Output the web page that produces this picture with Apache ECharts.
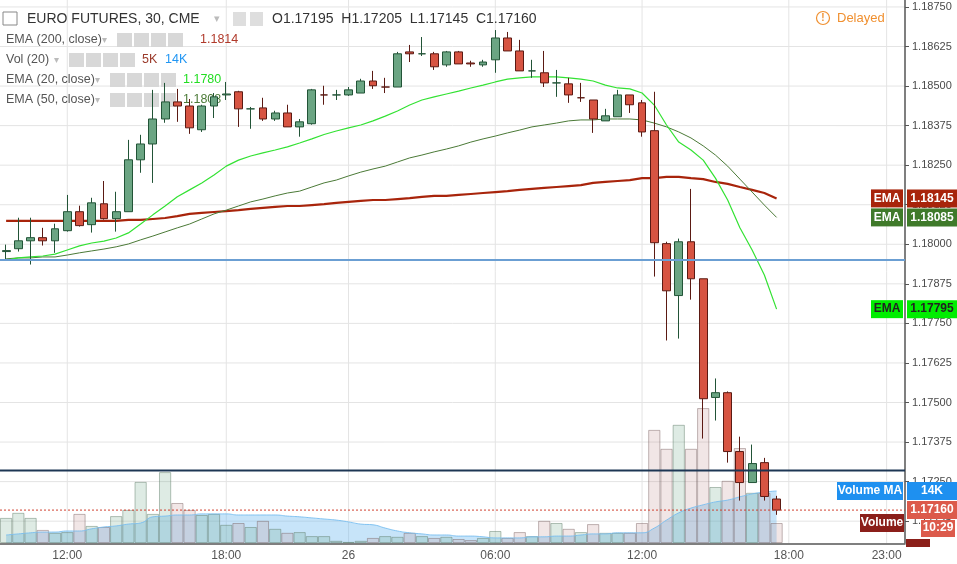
<!DOCTYPE html>
<html><head><meta charset="utf-8">
<script src="https://cdn.jsdelivr.net/npm/echarts@6/dist/echarts.min.js"></script>
<style>html,body{margin:0;padding:0;background:#fff}#c{width:957px;height:564px}</style>
</head><body><div id="c"></div>
<script>
// candles: [open, close, low, high]
const ohlc = [
[1.17977,1.17980,1.17951,1.17999],[1.17986,1.18011,1.17977,1.18084],[1.18011,1.18021,1.17936,1.18084],[1.18021,1.18011,1.17996,1.18052],
[1.18011,1.18049,1.17973,1.18065],[1.18043,1.18103,1.18040,1.18156],[1.18103,1.18059,1.18056,1.18122],[1.18062,1.18131,1.18037,1.18147],
[1.18128,1.18081,1.18078,1.18200],[1.18081,1.18103,1.18040,1.18166],[1.18103,1.18267,1.18103,1.18330],[1.18267,1.18317,1.18226,1.18346],
[1.18317,1.18396,1.18194,1.18488],[1.18396,1.18450,1.18384,1.18510],[1.18450,1.18437,1.18387,1.18491],[1.18437,1.18368,1.18349,1.18459],
[1.18362,1.18437,1.18355,1.18441],[1.18437,1.18466,1.18399,1.18478],[1.18472,1.18475,1.18456,1.18513],[1.18482,1.18428,1.18371,1.18485],
[1.18428,1.18428,1.18365,1.18434],[1.18431,1.18396,1.18390,1.18463],[1.18396,1.18415,1.18390,1.18422],[1.18415,1.18371,1.18371,1.18441],
[1.18371,1.18387,1.18340,1.18396],[1.18381,1.18488,1.18378,1.18491],[1.18472,1.18472,1.18441,1.18501],[1.18472,1.18472,1.18456,1.18488],
[1.18472,1.18488,1.18469,1.18497],[1.18478,1.18516,1.18478,1.18523],[1.18516,1.18501,1.18491,1.18548],[1.18497,1.18497,1.18478,1.18526],
[1.18497,1.18602,1.18497,1.18608],[1.18608,1.18602,1.18576,1.18630],[1.18602,1.18602,1.18595,1.18655],[1.18602,1.18561,1.18551,1.18608],
[1.18567,1.18608,1.18561,1.18611],[1.18608,1.18570,1.18570,1.18611],[1.18573,1.18570,1.18561,1.18580],[1.18567,1.18576,1.18561,1.18583],
[1.18583,1.18652,1.18542,1.18677],[1.18652,1.18611,1.18611,1.18671],[1.18611,1.18548,1.18548,1.18646],[1.18548,1.18548,1.18526,1.18583],
[1.18542,1.18510,1.18497,1.18611],[1.18510,1.18510,1.18466,1.18551],[1.18507,1.18472,1.18447,1.18526],[1.18463,1.18463,1.18450,1.18510],
[1.18456,1.18396,1.18352,1.18456],[1.18390,1.18406,1.18390,1.18428],[1.18403,1.18472,1.18403,1.18488],[1.18472,1.18441,1.18415,1.18472],
[1.18447,1.18355,1.18340,1.18456],[1.18359,1.18005,1.17898,1.18482],[1.18002,1.17853,1.17696,1.18008],[1.17838,1.18008,1.17702,1.18018],
[1.18008,1.17891,1.17825,1.18175],[1.17891,1.17512,1.17386,1.17891],[1.17516,1.17531,1.17443,1.17576],[1.17531,1.17345,1.17310,1.17535],
[1.17345,1.17247,1.17190,1.17392],[1.17247,1.17307,1.17247,1.17367],[1.17310,1.17203,1.17190,1.17325],[1.17195,1.17160,1.17145,1.17205]
];
const ema20 = [1.17950,1.17957,1.17960,1.17963,1.17969,1.17982,1.17995,1.18004,1.18010,1.18020,1.18036,1.18064,1.18093,1.18121,1.18150,1.18172,1.18194,1.18219,1.18247,1.18266,1.18279,1.18289,1.18298,1.18308,1.18320,1.18333,1.18347,1.18358,1.18368,1.18377,1.18390,1.18405,1.18421,1.18440,1.18456,1.18466,1.18475,1.18484,1.18494,1.18503,1.18513,1.18522,1.18526,1.18529,1.18529,1.18529,1.18526,1.18522,1.18516,1.18503,1.18494,1.18491,1.18478,1.18440,1.18377,1.18323,1.18298,1.18266,1.18209,1.18140,1.18052,1.17982,1.17903,1.17795];
const ema50 = [1.17954,1.17957,1.17957,1.17960,1.17960,1.17966,1.17973,1.17979,1.17985,1.17992,1.18001,1.18014,1.18026,1.18039,1.18052,1.18064,1.18080,1.18096,1.18108,1.18121,1.18134,1.18143,1.18153,1.18162,1.18168,1.18181,1.18194,1.18203,1.18216,1.18228,1.18238,1.18247,1.18260,1.18273,1.18282,1.18292,1.18301,1.18311,1.18323,1.18333,1.18342,1.18352,1.18361,1.18371,1.18377,1.18383,1.18390,1.18393,1.18393,1.18396,1.18396,1.18396,1.18393,1.18383,1.18371,1.18355,1.18336,1.18311,1.18282,1.18247,1.18206,1.18165,1.18124,1.18085];
const ema200 = [1.18074,1.18074,1.18074,1.18074,1.18074,1.18074,1.18074,1.18074,1.18074,1.18074,1.18077,1.18077,1.18080,1.18083,1.18089,1.18096,1.18099,1.18102,1.18105,1.18108,1.18112,1.18115,1.18118,1.18121,1.18121,1.18124,1.18127,1.18131,1.18134,1.18137,1.18140,1.18140,1.18143,1.18146,1.18150,1.18153,1.18153,1.18156,1.18159,1.18162,1.18165,1.18168,1.18172,1.18175,1.18178,1.18181,1.18184,1.18187,1.18194,1.18197,1.18200,1.18203,1.18209,1.18209,1.18213,1.18213,1.18209,1.18206,1.18197,1.18191,1.18181,1.18172,1.18162,1.18145];
// volume in thousands
const volume = [6.9,8.3,6.9,3.6,2.8,3.0,8.0,4.7,4.4,7.4,9.1,16.8,8.0,19.5,11.0,9.1,7.7,8.0,5.0,5.5,4.4,6.1,3.9,2.8,3.0,1.9,1.9,0.6,0.3,0.6,1.4,1.9,1.7,2.8,1.9,1.4,1.7,1.1,0.8,1.4,3.3,1.4,3.0,1.9,6.1,5.5,3.9,3.0,5.2,2.8,2.8,2.8,5.5,31.1,25.9,32.5,25.9,37.1,15.4,17.1,26.1,13.8,13.8,5.5];
const volMA = [2.2,2.5,2.8,3.0,3.0,3.3,3.3,3.9,4.4,4.7,5.2,5.5,7.2,7.4,7.7,7.7,8.0,8.0,8.0,7.7,7.7,7.7,7.7,7.4,7.2,6.9,6.6,6.3,5.8,5.2,5.0,4.1,3.3,2.8,2.5,2.2,2.2,1.9,1.9,1.7,1.4,1.4,1.4,1.7,1.7,1.9,1.9,2.2,2.5,2.5,2.8,2.8,2.8,4.1,6.3,8.3,9.6,10.5,11.3,11.8,12.7,13.5,14.0,14.3];
const slotCount = 74;
const timeTickIdx = [5,18,28,40,52,64,72];
const timeTickText = ['12:00','18:00','26','06:00','12:00','18:00','23:00'];
const priceTicks = [1.18750,1.18625,1.18500,1.18375,1.18250,1.18125,1.18000,1.17875,1.17750,1.17625,1.17500,1.17375,1.17250,1.17125];
const hLineBlue = 1.17950, hLineNavy = 1.17285, lastClose = 1.17160;
const tags = [
  {v: 1.18145, bg: '#a8240b', fg: '#fff', left: 'EMA', right: '1.18145'},
  {v: 1.18085, bg: '#3f7a2a', fg: '#fff', left: 'EMA', right: '1.18085'},
  {v: 1.17795, bg: '#00ee00', fg: '#222', left: 'EMA', right: '1.17795'}
];
const volMALast = 14.3;

const cats = Array.from({length: slotCount}, (_, i) => String(i));
const UP = '#6ba583', UPB = '#225437', DN = '#d75442', DNB = '#5b1a13';
const volData = volume.map((v, i) => ({
  value: v,
  itemStyle: ohlc[i][1] >= ohlc[i][0]
    ? {color: 'rgba(107,165,131,0.22)', borderColor: 'rgba(90,120,100,0.45)', borderWidth: 1}
    : {color: 'rgba(190,140,140,0.22)', borderColor: 'rgba(120,95,95,0.45)', borderWidth: 1}
}));
const FONT = 'Arial, Liberation Sans, sans-serif';
const chart = echarts.init(document.getElementById('c'), null, {renderer: 'canvas'});
chart.setOption({
  animation: false,
  backgroundColor: '#fff',
  grid: [{left: -4, right: 52, top: 0, height: 543}, {left: -4, right: 52, top: 543, height: 1}],
  xAxis: [
    {type: 'category', data: cats, gridIndex: 0, axisLine: {show: false}, axisTick: {show: false}, axisLabel: {show: false}, splitLine: {show: false}},
    {type: 'category', data: cats, gridIndex: 1, axisLine: {lineStyle: {color: '#555', width: 1.5}}, axisTick: {show: false},
     axisLabel: {interval: 0, color: '#555', fontSize: 12, fontFamily: FONT, margin: 6,
       formatter: (v, i) => { const k = timeTickIdx.indexOf(i); return k >= 0 ? timeTickText[k] : ''; }}}
  ],
  yAxis: [
    {type: 'value', gridIndex: 0, position: 'right', min: 1.17056, max: 1.18772,
     axisLine: {show: true, lineStyle: {color: '#555', width: 1.5}}, axisTick: {show: true, customValues: priceTicks, length: 4, lineStyle: {color: '#555'}},
     splitLine: {show: false},
     axisLabel: {customValues: priceTicks, color: '#4a4a4a', fontSize: 11, fontFamily: FONT, margin: 7, formatter: v => v.toFixed(5)}},
    {type: 'value', gridIndex: 0, min: 0, max: 149.3, show: false},
    {type: 'value', gridIndex: 1, show: false}
  ],
  series: [
    {type: 'bar', data: volData, xAxisIndex: 0, yAxisIndex: 1, barCategoryGap: '0%', z: 1, silent: true},
    {type: 'line', data: volMA, xAxisIndex: 0, yAxisIndex: 1, smooth: true, symbol: 'none', z: 1,
     lineStyle: {color: 'rgba(120,190,240,0.9)', width: 1}, areaStyle: {color: 'rgba(110,185,240,0.55)'}},
    {type: 'line', data: ema200, xAxisIndex: 0, yAxisIndex: 0, symbol: 'none', z: 3, lineStyle: {color: '#a8240b', width: 2.2}},
    {type: 'line', data: ema50, xAxisIndex: 0, yAxisIndex: 0, symbol: 'none', z: 3, lineStyle: {color: '#4b7a37', width: 1}},
    {type: 'line', data: ema20, xAxisIndex: 0, yAxisIndex: 0, symbol: 'none', z: 3, lineStyle: {color: '#33e233', width: 1.2}},
    {type: 'candlestick', data: ohlc, xAxisIndex: 0, yAxisIndex: 0, z: 4, barWidth: '68%',
     itemStyle: {color: UP, color0: DN, borderColor: UPB, borderColor0: DNB, borderWidth: 1}}
  ]
});

// overlays positioned through the chart's own scales
const py = v => chart.convertToPixel({yAxisIndex: 0}, v);
const vy = v => chart.convertToPixel({yAxisIndex: 1}, v);
const px = i => chart.convertToPixel({xAxisIndex: 0}, i);
const AX = 905, L = 0;
const txt = (x, y, s, font, fill, extra) => Object.assign({type: 'text', style: {x, y, text: s, font, fill, verticalAlign: 'middle'}}, extra || {});
function tag(y, bg, fg, left, right, leftW) {
  const out = [];
  if (left) {
    out.push({type: 'rect', z: 20, shape: {x: AX - 2 - leftW, y: y - 9, width: leftW, height: 18}, style: {fill: bg}});
    out.push(txt(AX - 2 - leftW / 2, y, left, 'bold 12px ' + FONT, fg, {z: 21, style: {x: AX - 2 - leftW / 2, y, text: left, font: 'bold 12px ' + FONT, fill: fg, verticalAlign: 'middle', align: 'center'}}));
  }
  out.push({type: 'rect', z: 20, shape: {x: AX + 2, y: y - 9, width: 50, height: 18}, style: {fill: bg}});
  out.push({type: 'text', z: 21, style: {x: AX + 27, y, text: right, font: 'bold 12px ' + FONT, fill: fg, verticalAlign: 'middle', align: 'center'}});
  return out;
}
const g = [];
priceTicks.forEach(v => g.push({type: 'line', z: -10, shape: {x1: L, y1: py(v), x2: AX, y2: py(v)}, style: {stroke: '#e4e4e4', lineWidth: 1}}));
timeTickIdx.forEach(i => g.push({type: 'line', z: -10, shape: {x1: px(i), y1: 0, x2: px(i), y2: 543}, style: {stroke: '#e4e4e4', lineWidth: 1}}));
g.push({type: 'line', z: 5, shape: {x1: L, y1: py(hLineBlue), x2: AX, y2: py(hLineBlue)}, style: {stroke: '#6b9fd3', lineWidth: 2}});
g.push({type: 'line', z: 5, shape: {x1: L, y1: py(hLineNavy), x2: AX, y2: py(hLineNavy)}, style: {stroke: '#1d3654', lineWidth: 2}});
g.push({type: 'line', z: 5, shape: {x1: L, y1: py(lastClose), x2: AX, y2: py(lastClose)}, style: {stroke: '#d04030', lineWidth: 1, lineDash: [2, 2]}});
tags.forEach(t => g.push(...tag(py(t.v), t.bg, t.fg, t.left, t.right, 32)));
g.push(...tag(vy(volMALast), '#1e90f0', '#fff', 'Volume MA', '14K', 66));
g.push(...tag(py(lastClose), '#dc5a4b', '#fff', null, '1.17160', 0));
// header
g.push({type: 'rect', shape: {x: 3, y: 12, width: 14, height: 13}, style: {fill: '#fff', stroke: '#888'}});
g.push(txt(27, 19, 'EURO FUTURES, 30, CME', '14px ' + FONT, '#333'));
g.push(txt(214, 19, '▾', '11px ' + FONT, '#bbb'));
g.push({type: 'rect', shape: {x: 233, y: 12, width: 13, height: 14}, style: {fill: '#dedede'}});
g.push({type: 'rect', shape: {x: 250, y: 12, width: 13, height: 14}, style: {fill: '#dedede'}});
g.push(txt(272, 19, 'O1.17195  H1.17205  L1.17145  C1.17160', '14px ' + FONT, '#333'));
[['EMA (200, close)', 40, 117], ['Vol (20)', 60, 69], ['EMA (20, close)', 80, 110], ['EMA (50, close)', 100, 110]].forEach(([s, y, x]) => {
  g.push(txt(6, y, s, '12.5px ' + FONT, '#555'));
  g.push(txt(x - 15, y, '▾', '10px ' + FONT, '#bbb'));
  for (let k = 0; k < 4; k++) g.push({type: 'rect', shape: {x: x + k * 17, y: y - 7, width: 15, height: 14}, style: {fill: 'rgba(212,212,212,0.9)'}});
});
g.push(txt(200, 40, '1.1814', '12.5px ' + FONT, '#b0392a'));
g.push(txt(142, 60, '5K', '12.5px ' + FONT, '#9b3a2a'));
g.push(txt(165, 60, '14K', '12.5px ' + FONT, '#2196f3'));
g.push(txt(183, 80, '1.1780', '12.5px ' + FONT, '#22dd22'));
g.push(txt(183, 100, '1.1808', '12.5px ' + FONT, '#4b7a37'));
g.push({type: 'circle', shape: {cx: 823, cy: 18, r: 6.5}, style: {fill: '#fff', stroke: '#f09030', lineWidth: 1.2}});
g.push({type: 'text', style: {x: 823, y: 18, text: '!', font: 'bold 10px ' + FONT, fill: '#f09030', align: 'center', verticalAlign: 'middle'}});
g.push(txt(837, 18, 'Delayed', '13px ' + FONT, '#f09030'));
g.push({type: 'rect', z: 20, shape: {x: 860, y: 514, width: 44, height: 18}, style: {fill: '#8b1f1a'}});
g.push({type: 'text', z: 21, style: {x: 882, y: 523, text: 'Volume', font: 'bold 12px ' + FONT, fill: '#fff', align: 'center', verticalAlign: 'middle'}});
g.push({type: 'rect', z: 20, shape: {x: 921, y: 520, width: 34, height: 17}, style: {fill: '#dc5a4b'}});
g.push({type: 'text', z: 21, style: {x: 938, y: 528, text: '10:29', font: 'bold 12px ' + FONT, fill: '#fff', align: 'center', verticalAlign: 'middle'}});
g.push({type: 'rect', z: 20, shape: {x: 906, y: 539, width: 24, height: 8}, style: {fill: '#8b1f1a'}});
chart.setOption({graphic: g});
</script></body></html>
